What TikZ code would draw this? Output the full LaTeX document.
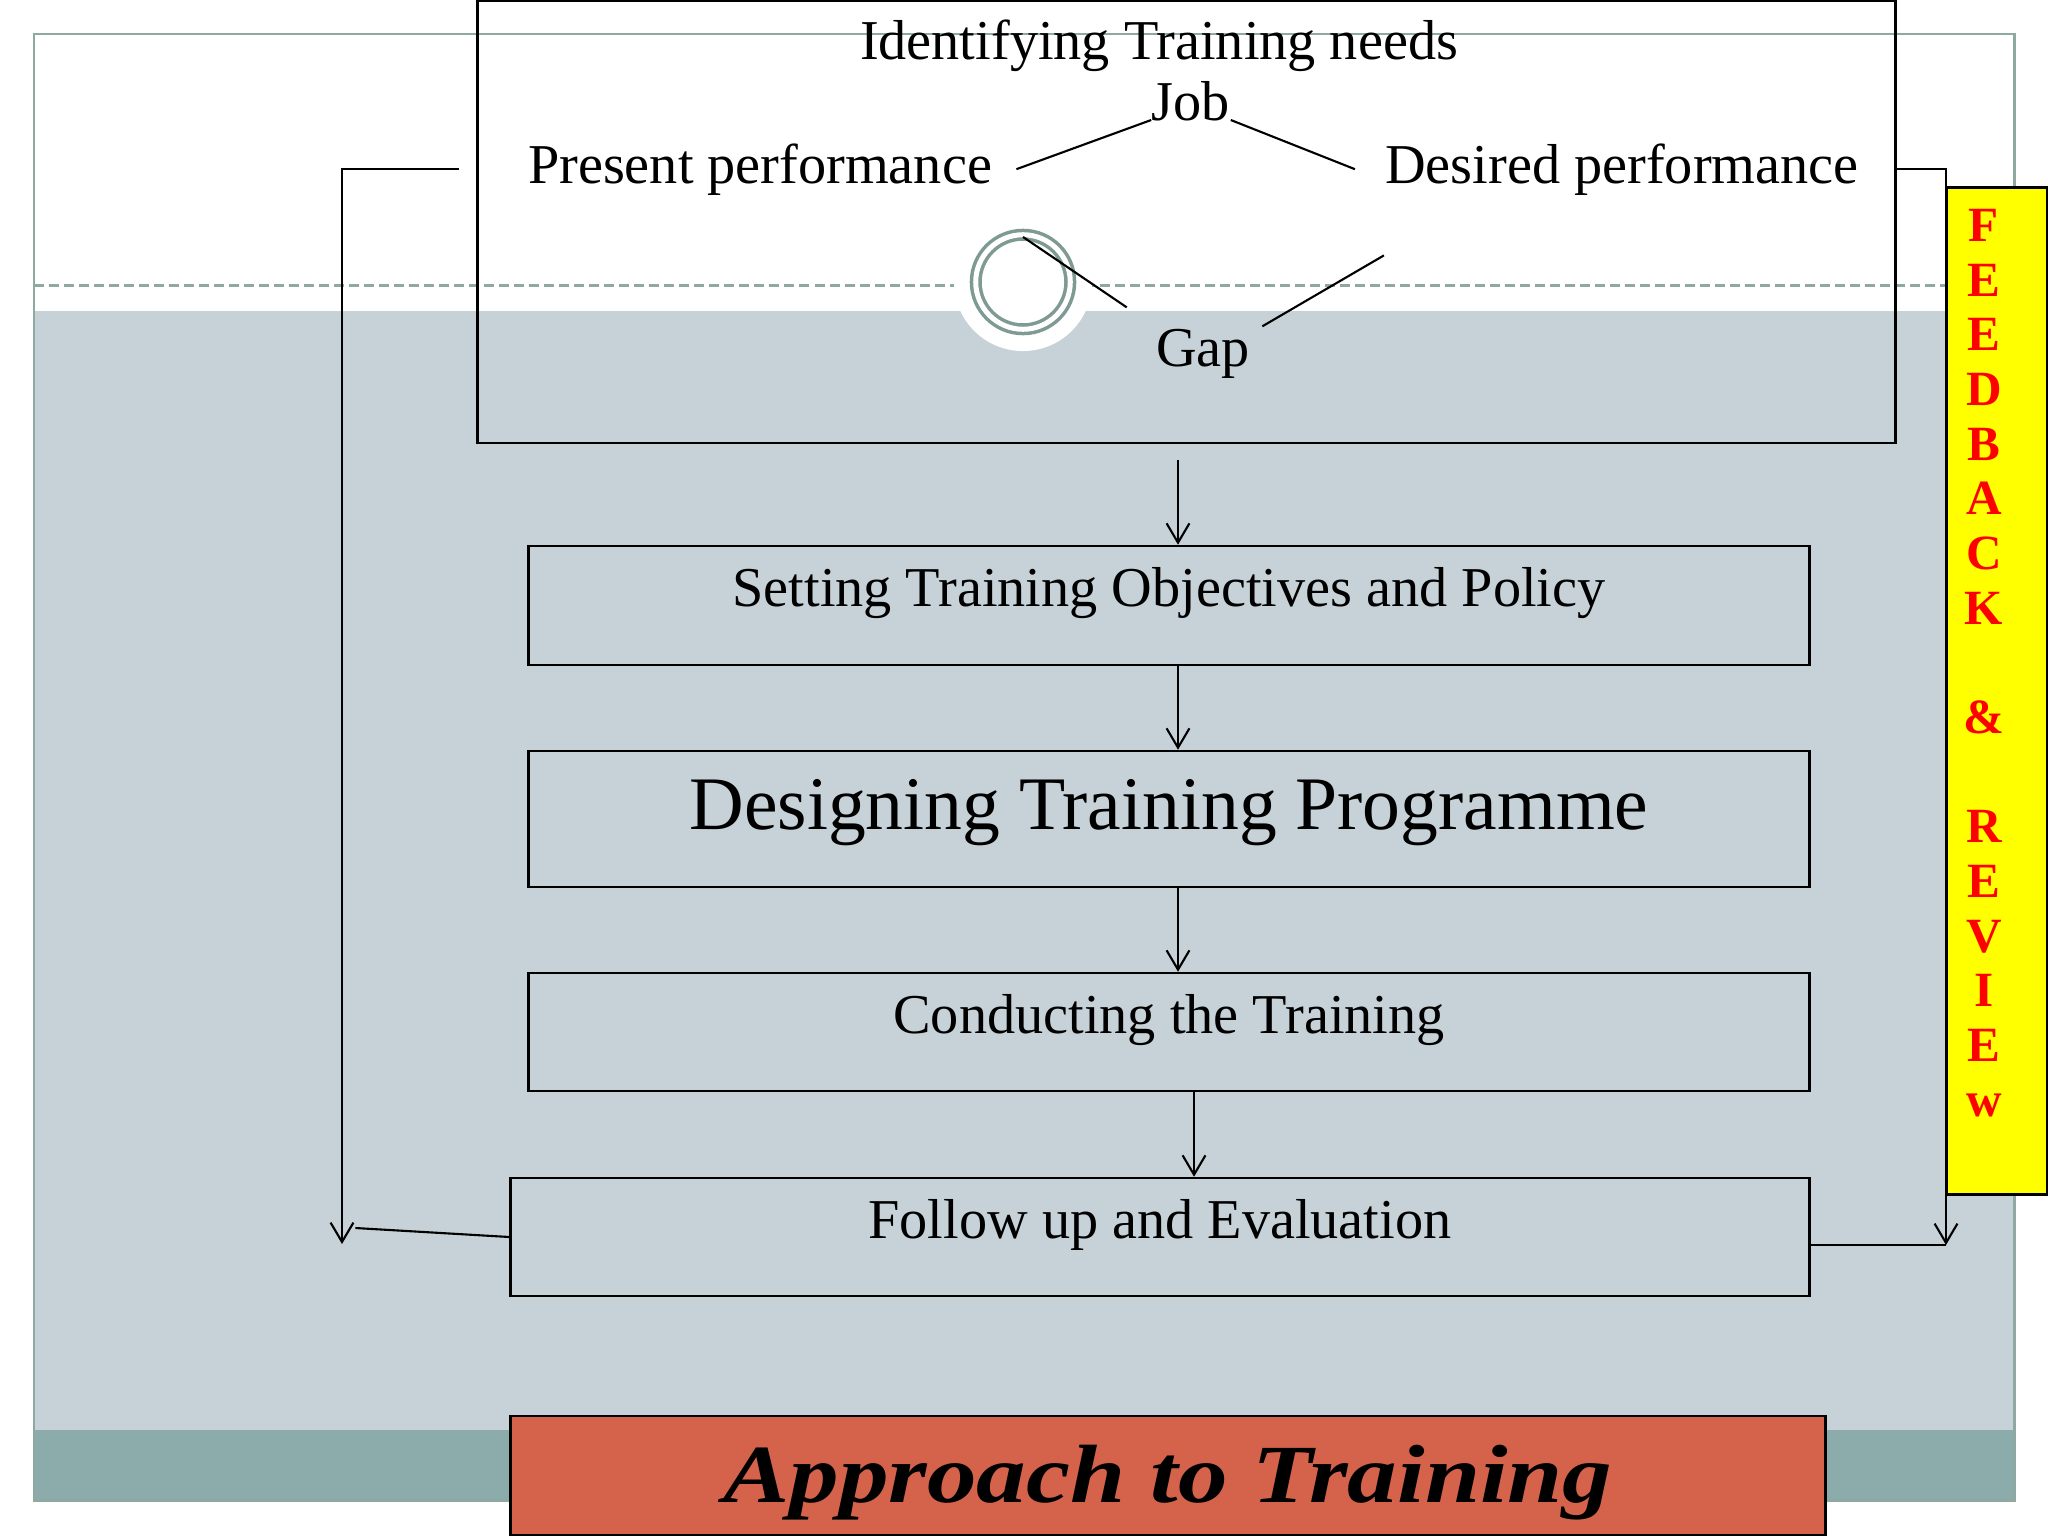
\documentclass[tikz,border=0pt]{standalone}
\usepackage{fontspec}
\setmainfont{Liberation Serif}
\newfontfamily\titlefont[FakeStretch=1.2]{Liberation Serif}
\usetikzlibrary{arrows.meta}
\definecolor{slidegray}{HTML}{C6D2D8}
\definecolor{bandteal}{HTML}{8BACAB}
\definecolor{frameteal}{HTML}{8EA8A2}
\definecolor{ringteal}{HTML}{7F9A93}
\definecolor{titlered}{HTML}{D5634B}
\definecolor{fbyellow}{HTML}{FFFF00}

\tikzset{ lbl/.style={font=\fontsize{16}{19}\selectfont},
          stage/.style={draw, line width=0.7pt, minimum width=12.8cm, minimum height=1.19cm, inner sep=0pt,
                        text height=0.40cm, text depth=0.38cm, font=\fontsize{16}{19}\selectfont},
          flow/.style={line width=0.6pt, -{Straight Barb[length=5.5pt,width=6.5pt]}} }

\begin{document}
\begin{tikzpicture}[x=0.01cm, y=-0.01cm, every edge/.style={draw, flow}]
        \useasboundingbox (0,0) rectangle (2048,1536);
        % slide background
        \fill[slidegray] (34,311) rectangle (2014,1430);
        \fill[bandteal] (34,1430) rectangle (2014,1500);
        \draw[frameteal, line width=0.85pt, dash pattern=on 0.1cm off 0.05cm] (34,285) -- (2014,285);
        \fill[white] (1023,282) circle [radius=0.69cm];
        \draw[frameteal, line width=0.85pt] (34,34) rectangle (2014,1500);

        % identifying training needs
        \node[draw, line width=0.7pt, minimum width=14.17cm, minimum height=4.42cm] (needs) at (1186.5,222) {};
        \node[lbl, anchor=base] (ident) at (1159,59) {Identifying Training needs};
        \node[lbl, anchor=base, inner sep=0pt] (job) at (1191,120) {Job};
        \node[lbl, anchor=base] (present) at (760,183) {Present performance};
        \node[lbl, anchor=base] (desired) at (1622,183) {Desired performance};
        \node[lbl, anchor=base] (gap) at (1203,366) {Gap};
        \node[circle, draw=ringteal, line width=1pt, double=white, double distance=0.05cm,
              minimum size=0.945cm, inner sep=0pt] (ring) at (1023,282) {};

        \path ([xshift=0.12cm]present.east) edge[-] (job.base west)
              (job.base east) edge[-] ([xshift=-0.18cm]desired.west)
              ([yshift=-0.04cm]ring.north) edge[-] ([shift={(-17,-9)}]gap.north west)
              ([shift={(11,48)}]desired.south west) edge[-] ([yshift=-0.10cm]gap.north east);

        % stages
        \node[stage] (set) at (1169,605.5) {Setting Training Objectives and Policy};
        \node[stage, minimum height=1.36cm, text height=0.52cm, text depth=0.32cm,
              font=\fontsize{21.5}{26}\selectfont] (design) at (1169,819) {Designing Training Programme};
        \node[stage, minimum height=1.18cm] (conduct) at (1169,1032) {Conducting the Training};
        \node[stage, minimum width=12.98cm, minimum height=1.18cm] (follow) at (1160,1237) {Follow up and Evaluation};

        \path ([xshift=0.09cm,yshift=-0.16cm]set.north |- needs.south) edge ([xshift=0.09cm]set.north)
              ([xshift=0.09cm]set.south) edge ([xshift=0.09cm]design.north)
              ([xshift=0.09cm]design.south) edge ([xshift=0.09cm]conduct.north)
              ([xshift=0.25cm]conduct.south) edge ([xshift=0.25cm]conduct.south |- follow.north);

        % feedback and review
        \node[draw, fill=fbyellow, line width=0.7pt, minimum width=1cm, minimum height=10.06cm] (feedback) at (1997,691) {};
        \node[text=red, font=\fontsize{14}{15.55}\selectfont\bfseries, align=center, inner sep=0pt] (fbtext) at (1984,663)
              {F\\E\\E\\D\\B\\A\\C\\K\\[15.55pt]\&\\[15.55pt]R\\E\\V\\I\\E\\w};

        \coordinate (fbl) at (342,1244);
        \coordinate (fbr) at (1946,1245);
        \draw[flow] ([xshift=-0.17cm]needs.west |- present.east) -| (fbl);
        \draw[flow] (needs.east |- present.east) -| (fbr);
        \draw[line width=0.6pt] (follow.west) -- ++(-154,-9);
        \draw[line width=0.6pt] (follow.east |- fbr) -- (fbr);

        \node[draw, fill=titlered, line width=0.7pt, minimum width=13.14cm, minimum height=1.19cm, inner sep=0pt,
              text height=0.62cm, text depth=0.09cm,
              font=\fontsize{23.5}{28}\titlefont\bfseries\itshape] (title) at (1168,1475.5) {Approach to Training};
\end{tikzpicture}
\end{document}
